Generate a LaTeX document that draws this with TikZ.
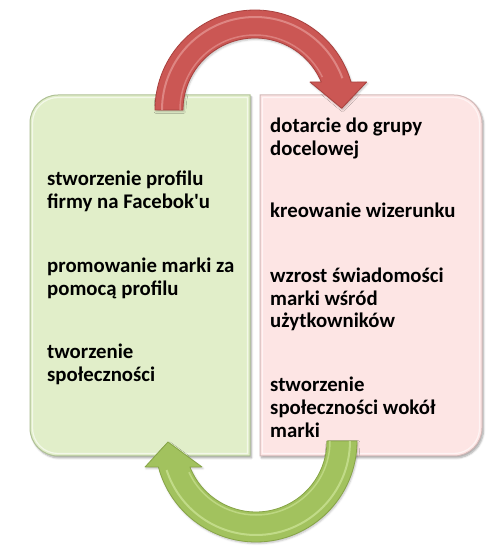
\documentclass[tikz,border=0pt]{standalone}
\usepackage{fontspec}
\setmainfont{Carlito}[BoldFont={Carlito Bold}]
\usetikzlibrary{shadows.blur}
\definecolor{gfill}{HTML}{E1EEC9}
\definecolor{gedge}{HTML}{AFC196}
\definecolor{pfill}{HTML}{FDE5E4}
\definecolor{pedge}{HTML}{D2B9B8}
\definecolor{redarrow}{HTML}{CB5754}
\definecolor{redlight}{HTML}{E79A97}
\definecolor{reddark}{HTML}{A8413E}
\definecolor{grnarrow}{HTML}{A2C25E}
\definecolor{grnlight}{HTML}{CFE69A}
\definecolor{grndark}{HTML}{86A446}
\tikzset{
  panel/.style={line width=1pt, blur shadow={shadow xshift=1.5pt, shadow yshift=-2pt, shadow blur steps=6, shadow opacity=35}},
  blockarrow/.style={line width=0.8pt, line join=round},
  txt/.style={anchor=base west, inner sep=0pt, align=left, font=\fontsize{20.8}{22.7}\selectfont\bfseries, text=black}
}
\begin{document}
\begin{tikzpicture}[x=1pt,y=1pt]
\useasboundingbox (0,0) rectangle (497,550);
% left panel
\path[panel, fill=gfill, draw=gedge] (250,94) -- (58,94) arc[start angle=270, end angle=180, radius=28] -- (30,427) arc[start angle=180, end angle=90, radius=28] -- (250,455) -- cycle;
\draw[white, opacity=0.6, line width=1.2pt] (247.5,96.5) -- (58,96.5) arc[start angle=270, end angle=180, radius=25.5] -- (32.5,427) arc[start angle=180, end angle=90, radius=25.5] -- (247.5,452.5) -- cycle;
% right panel
\path[panel, fill=pfill, draw=pedge] (260,94) -- (454,94) arc[start angle=-90, end angle=0, radius=28] -- (482,427) arc[start angle=0, end angle=90, radius=28] -- (260,455) -- cycle;
\draw[white, opacity=0.6, line width=1.2pt] (262.5,96.5) -- (454,96.5) arc[start angle=-90, end angle=0, radius=25.5] -- (479.5,427) arc[start angle=0, end angle=90, radius=25.5] -- (262.5,452.5) -- cycle;
% red arrow (top)
\coordinate (rc) at (255,440);
\path[blockarrow, fill=redarrow, draw=reddark, blur shadow={shadow xshift=1pt, shadow yshift=-1.5pt, shadow blur steps=4, shadow opacity=25}]
  (155,440) arc[start angle=180, end angle=16.26, radius=100]
  -- (366.7,468) -- (341.7,441.7) -- (310,468) -- (321.3,468)
  arc[start angle=22.9, end angle=180, radius=72] -- cycle;
\draw[redlight, line width=2pt, opacity=0.7] ([shift={(180:93)}]rc) arc[start angle=180, end angle=20, radius=93];
\draw[redlight, line width=1.5pt, opacity=0.6] ([shift={(180:75)}]rc) arc[start angle=180, end angle=26, radius=75];
% green arrow (bottom)
\coordinate (gc) at (256,109);
\path[blockarrow, fill=grnarrow, draw=grndark, blur shadow={shadow xshift=1pt, shadow yshift=-1.5pt, shadow blur steps=4, shadow opacity=25}]
  (357,109) arc[start angle=0, end angle=-165.1, radius=101]
  -- (145,83) -- (168,108) -- (202,83) -- (189.9,83)
  arc[start angle=-158.5, end angle=0, radius=71] -- cycle;
\draw[grnlight, line width=2pt, opacity=0.7] ([shift={(0:94)}]gc) arc[start angle=0, end angle=-162, radius=94];
\draw[grnlight, line width=1.5pt, opacity=0.6] ([shift={(0:74)}]gc) arc[start angle=0, end angle=-155, radius=74];
% texts (anchored at the baseline of the last line)
\node[txt] (t1) at (47,341.6) {stworzenie profilu\\firmy na Facebok\textquotesingle u};
\node[txt] (t2) at (47,254.9) {promowanie marki za\\pomocą profilu};
\node[txt] (t3) at (47,168.9) {tworzenie\\społeczności};
\node[txt] (r1) at (270,394.9) {dotarcie do grupy\\docelowej};
\node[txt] (r2) at (270,332) {kreowanie wizerunku};
\node[txt] (r3) at (270,222.2) {wzrost świadomości\\marki wśród\\użytkowników};
\node[txt] (r4) at (270,112.9) {stworzenie\\społeczności wokół\\marki};
\end{tikzpicture}
\end{document}
